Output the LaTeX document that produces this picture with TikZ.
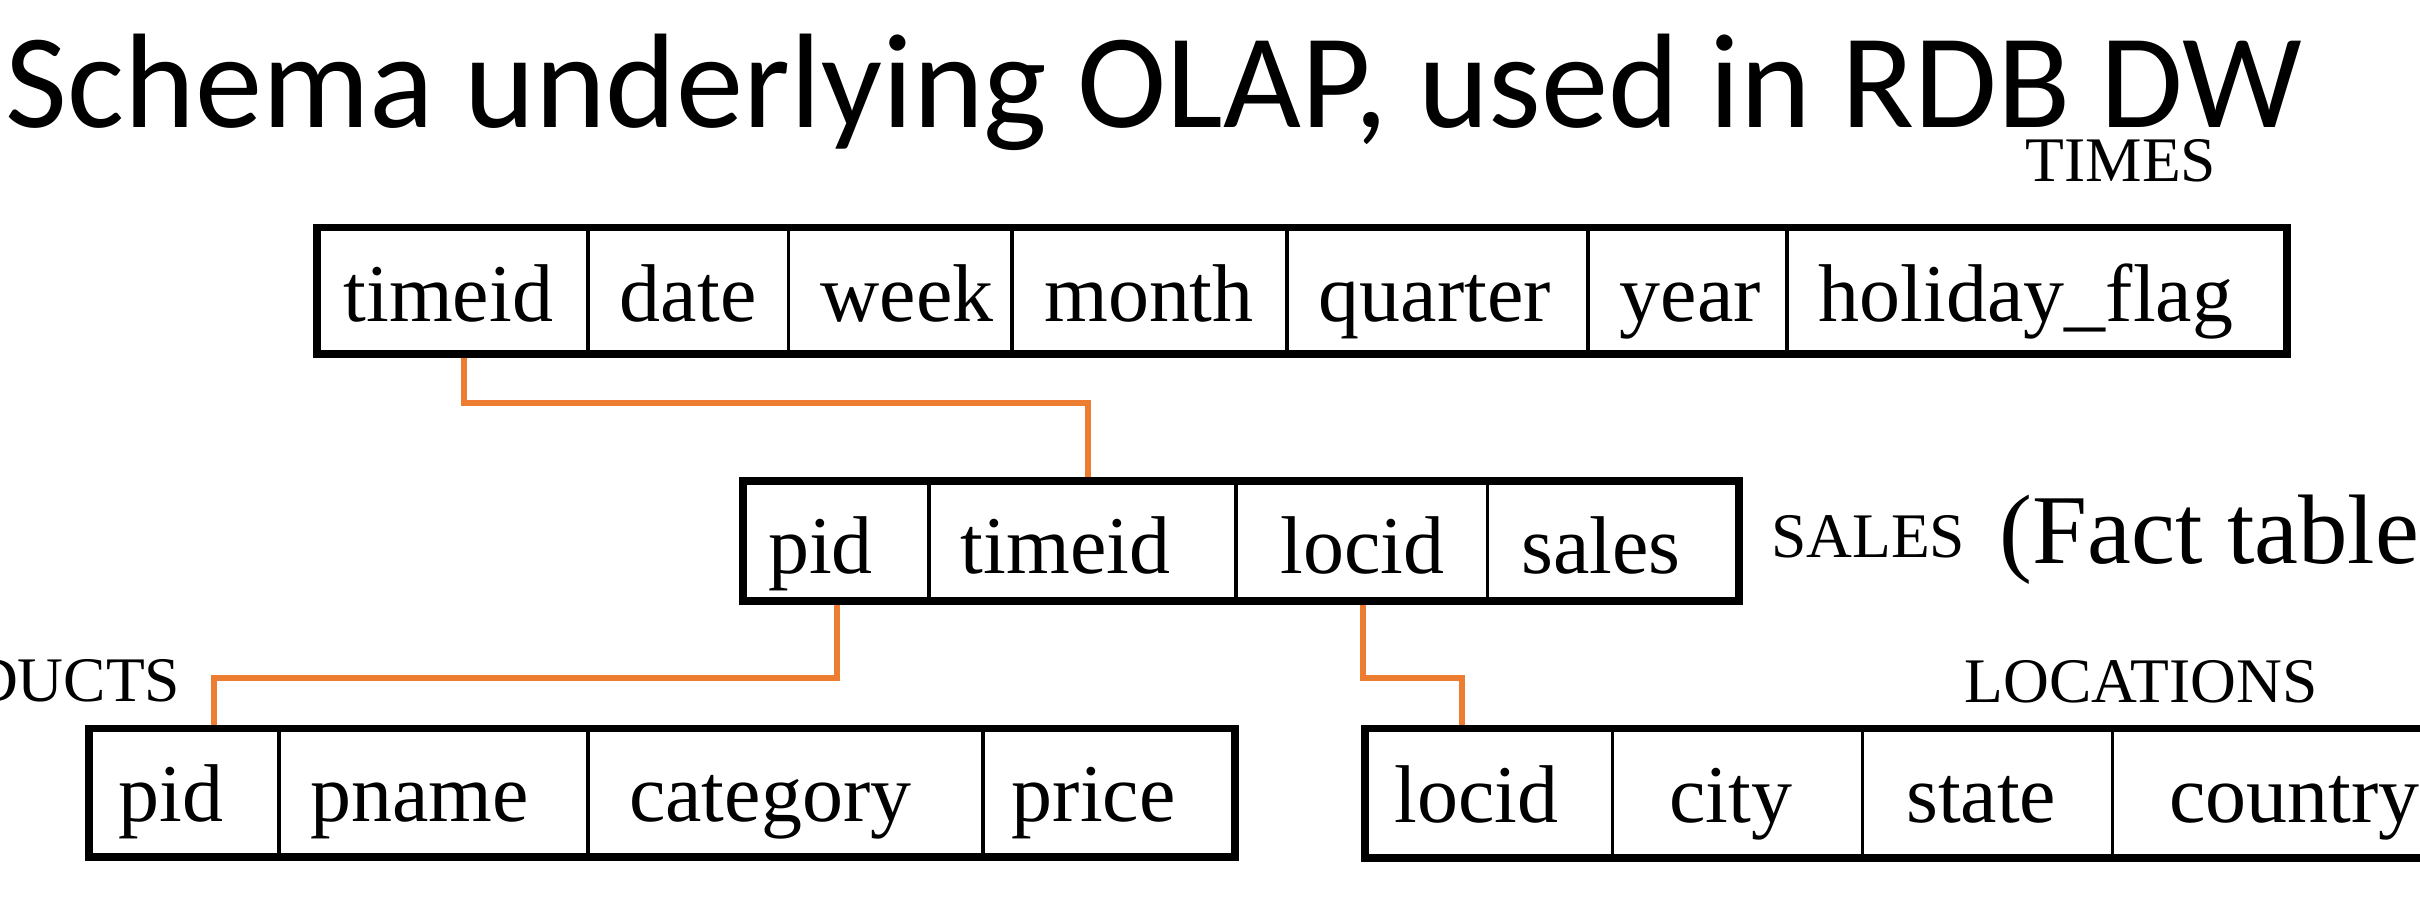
\documentclass[tikz,border=0pt]{standalone}
\usepackage{fontspec}
\setmainfont{Liberation Serif}
\newfontfamily\titlefont{Carlito}
\definecolor{fkorange}{HTML}{ED7D31}
\begin{document}
\begin{tikzpicture}[x=0.01cm,y=-0.01cm,
  tbl/.style={line width=1.42pt,draw=black},
  div/.style={line width=0.68pt,draw=black},
  fk/.style={line width=1.1pt,draw=fkorange},
  cell/.style={anchor=base west,inner sep=0pt,font=\fontsize{15.1}{18}\selectfont},
  lbl/.style={anchor=base west,inner sep=0pt,font=\fontsize{11.7}{14}\selectfont},
  big/.style={anchor=base west,inner sep=0pt,font=\fontsize{18.2}{22}\selectfont},
  ttl/.style={anchor=base west,inner sep=0pt,font=\titlefont\fontsize{24.8}{30}\selectfont}]
\useasboundingbox (0,0) rectangle (1568.2,588.4);
\clip (0,0) rectangle (1568.2,588.4);

% title
\node[ttl] (title) at (3,82.5) {Schema underlying OLAP, used in RDB DW};

% connector coordinates
\coordinate (fkAs) at (300.5,229.5);
\coordinate (fkAm1) at (300.5,261);
\coordinate (fkAm2) at (705,261);
\coordinate (fkAe) at (705,311.5);
\coordinate (fkBs) at (542.6,389.5);
\coordinate (fkBm1) at (542.6,439.3);
\coordinate (fkBm2) at (138.4,439.3);
\coordinate (fkBe) at (138.4,472);
\coordinate (fkCs) at (883,389.5);
\coordinate (fkCm1) at (883,439.3);
\coordinate (fkCm2) at (947.5,439.3);
\coordinate (fkCe) at (947.5,472);

\draw[fk] (fkAs) -- (fkAm1) -- (fkAm2) -- (fkAe);
\draw[fk] (fkBs) -- (fkBm1) -- (fkBm2) -- (fkBe);
\draw[fk] (fkCs) -- (fkCm1) -- (fkCm2) -- (fkCe);

% TIMES table
\draw[tbl] (205.5,147.5) rectangle (1482,229.5);
\foreach \xx in {381,511,656,834,1029,1158} \draw[div] (\xx,147.5) -- (\xx,229.5);
\node[cell] (t1) at (222,208.2) {timeid};
\node[cell] (t2) at (401,208.2) {date};
\node[cell] (t3) at (531,208.2) {week};
\node[cell] (t4) at (676,208.2) {month};
\node[cell] (t5) at (854,208.2) {quarter};
\node[cell] (t6) at (1049,208.2) {year};
\node[cell] (t7) at (1178,208.2) {holiday\_flag};
\node[lbl] (timeslbl) at (1312,117.7) {TIMES};

% SALES table
\draw[tbl] (481.5,311.5) rectangle (1127,389.5);
\foreach \xx in {602,801,964} \draw[div] (\xx,311.5) -- (\xx,389.5);
\node[cell] (s1) at (497,371.4) {pid};
\node[cell] (s2) at (622,371.4) {timeid};
\node[cell] (s3) at (829,371.4) {locid};
\node[cell] (s4) at (985,371.4) {sales};
\node[lbl] (saleslbl) at (1147,361) {SALES};
\node[big] (factlbl) at (1295,365) {(Fact table};

% PRODUCTS table
\draw[tbl] (57.5,472) rectangle (800.5,555.5);
\foreach \xx in {181,381,637} \draw[div] (\xx,472) -- (\xx,555.5);
\node[cell] (p1) at (76,532.6) {pid};
\node[cell] (p2) at (200.5,532.6) {pname};
\node[cell] (p3) at (407,532.6) {category};
\node[cell] (p4) at (655,532.6) {price};
\node[lbl,anchor=base east] (prodlbl) at (117.5,454.7) {PRODUCTS};

% LOCATIONS table
\draw[tbl] (884.5,472) rectangle (1620,556);
\foreach \xx in {1045,1207,1369} \draw[div] (\xx,472) -- (\xx,556);
\node[cell] (l1) at (903,532.7) {locid};
\node[cell] (l2) at (1081,532.7) {city};
\node[cell] (l3) at (1234.5,532.7) {state};
\node[cell] (l4) at (1405,532.7) {country};
\node[lbl] (loclbl) at (1272.5,455) {LOCATIONS};
\end{tikzpicture}
\end{document}
